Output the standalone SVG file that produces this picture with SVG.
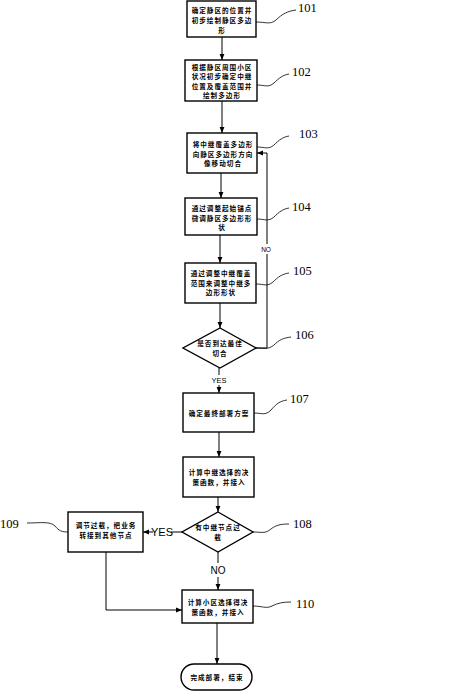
<svg xmlns="http://www.w3.org/2000/svg" width="474" height="692" viewBox="0 0 474 692">
<style>
.box{fill:#fff;stroke:#000;stroke-width:1.4}
.t{font-family:"Noto Sans CJK SC","Noto Sans CJK JP",sans-serif;font-size:6.6px;letter-spacing:1px;text-anchor:middle;dominant-baseline:central;fill:#000;font-weight:bold}
.lab{font-family:"Liberation Serif",serif;font-size:12.5px;dominant-baseline:central;fill:#000}
.yn{font-family:"Liberation Sans",sans-serif;fill:#000;text-anchor:middle;dominant-baseline:central}
.c{fill:none;stroke:#000;stroke-width:1}
.lead{fill:none;stroke:#000;stroke-width:0.8}
</style>
<defs>
<marker id="ah" viewBox="0 0 10 10" refX="10" refY="5" markerWidth="6" markerHeight="6" orient="auto" markerUnits="userSpaceOnUse">
<path d="M0,1 L10,5 L0,9 Z" fill="#000"/>
</marker>
</defs>
<rect width="474" height="692" fill="#fff"/>

<g id="connectors">
<line class="c" x1="222" y1="37" x2="222" y2="60" marker-end="url(#ah)"/>
<line class="c" x1="222" y1="101" x2="222" y2="133" marker-end="url(#ah)"/>
<line class="c" x1="221" y1="173" x2="221" y2="198" marker-end="url(#ah)"/>
<line class="c" x1="220" y1="235" x2="220" y2="263" marker-end="url(#ah)"/>
<line class="c" x1="220" y1="303" x2="220" y2="328" marker-end="url(#ah)"/>
<polyline class="c" points="256,348 267,348 267,153 257,153" marker-end="url(#ah)"/>
<line class="c" x1="219" y1="368" x2="219" y2="375"/>
<line class="c" x1="219" y1="385" x2="219" y2="393" marker-end="url(#ah)"/>
<line class="c" x1="219" y1="432" x2="219" y2="457" marker-end="url(#ah)"/>
<line class="c" x1="218" y1="497" x2="218" y2="512" marker-end="url(#ah)"/>
<line class="c" x1="182" y1="532" x2="171" y2="532"/>
<line class="c" x1="153" y1="532" x2="143" y2="532" marker-end="url(#ah)"/>
<line class="c" x1="218" y1="552" x2="218" y2="563"/>
<line class="c" x1="218" y1="577" x2="218" y2="590" marker-end="url(#ah)"/>
<polyline class="c" points="106,552 106,610 182,610" marker-end="url(#ah)"/>
<line class="c" x1="217" y1="623" x2="217" y2="664" marker-end="url(#ah)"/>
<rect x="261" y="244" width="12" height="10" fill="#fff"/>
<text class="yn" x="266" y="249" font-size="6.5">NO</text>
<text class="yn" x="219" y="380" font-size="7.5">YES</text>
<text class="yn" x="162" y="532" font-size="11">YES</text>
<text class="yn" x="218" y="570" font-size="10">NO</text>
</g>

<g id="n101">
<rect class="box" x="187" y="1" width="69" height="36"/>
<text class="t" x="222" y="10">确定静区的位置并</text>
<text class="t" x="222" y="20">初步绘制静区多边</text>
<text class="t" x="222" y="30">形</text>
<path class="lead" d="M256,22 C266,22 270,25 276,20 C282,14 288,11 296,10"/>
<text class="lab" x="298" y="8">101</text>
</g>

<g id="n102">
<rect class="box" x="185" y="60" width="72" height="41"/>
<text class="t" x="222" y="66.5">根据静区周围小区</text>
<text class="t" x="222" y="76">状况初步确定中继</text>
<text class="t" x="222" y="85.5">位置及覆盖范围并</text>
<text class="t" x="222" y="95">绘制多边形</text>
<path class="lead" d="M257,85 C265,85 268,88 274,83 C279,78 283,75 289,74"/>
<text class="lab" x="292" y="72">102</text>
</g>

<g id="n103">
<rect class="box" x="187" y="133" width="70" height="40"/>
<text class="t" x="223" y="144">将中继覆盖多边形</text>
<text class="t" x="223" y="153.5">向静区多边形方向</text>
<text class="t" x="223" y="163">像移动切合</text>
<path class="lead" d="M257,147 C265,147 268,150 274,145 C279,140 283,137 289,136"/>
<text class="lab" x="299" y="134">103</text>
</g>

<g id="n104">
<rect class="box" x="185" y="198" width="72" height="37"/>
<text class="t" x="222" y="208">通过调整起始锚点</text>
<text class="t" x="222" y="217.5">微调静区多边形形</text>
<text class="t" x="222" y="227">状</text>
<path class="lead" d="M257,219 C265,219 268,222 274,217 C279,212 283,209 289,208"/>
<text class="lab" x="292" y="207">104</text>
</g>

<g id="n105">
<rect class="box" x="185" y="263" width="71" height="40"/>
<text class="t" x="221" y="273">通过调整中继覆盖</text>
<text class="t" x="221" y="282.5">范围来调整中继多</text>
<text class="t" x="221" y="292">边形形状</text>
<path class="lead" d="M256,284 C264,284 267,287 273,282 C278,277 282,274 289,273"/>
<text class="lab" x="293" y="271">105</text>
</g>

<g id="n106">
<polygon class="box" points="220,328 256,348 220,368 183,348"/>
<text class="t" x="220" y="343">是否到达最佳</text>
<text class="t" x="220" y="353">切合</text>
<path class="lead" d="M256,348 C264,348 268,350 274,345 C279,340 283,338 291,337"/>
<text class="lab" x="295" y="335">106</text>
</g>

<g id="n107">
<rect class="box" x="183" y="393" width="71" height="39"/>
<text class="t" x="219" y="413">确定最终部署方案</text>
<path class="lead" d="M254,413 C262,413 265,416 271,410 C276,404 280,401 287,400"/>
<text class="lab" x="290" y="399">107</text>
</g>

<g id="n_relay">
<rect class="box" x="183" y="457" width="71" height="40"/>
<text class="t" x="219" y="472">计算中继选择的决</text>
<text class="t" x="219" y="482">策函数，并接入</text>
</g>

<g id="n108">
<polygon class="box" points="218,512 253,532 218,552 182,532"/>
<text class="t" x="218" y="527">有中继节点过</text>
<text class="t" x="218" y="537">载</text>
<path class="lead" d="M253,532 C262,532 265,534 271,529 C276,525 281,524 289,524"/>
<text class="lab" x="293" y="524">108</text>
</g>

<g id="n109">
<rect class="box" x="68" y="512" width="75" height="40"/>
<text class="t" x="106" y="525">调节过载，把业务</text>
<text class="t" x="106" y="535">转接到其他节点</text>
<path class="lead" d="M27,523 C40,523 50,521 55,526 C59,531 62,532 68,532"/>
<text class="lab" x="0" y="524">109</text>
</g>

<g id="n110">
<rect class="box" x="182" y="590" width="71" height="33"/>
<text class="t" x="218" y="602">计算小区选择得决</text>
<text class="t" x="218" y="612">策函数，并接入</text>
<path class="lead" d="M253,606 C262,606 266,609 272,606 C278,603 283,602 291,602"/>
<text class="lab" x="296" y="604">110</text>
</g>

<g id="end">
<rect class="box" x="181" y="664" width="71" height="26" rx="13" ry="13"/>
<text class="t" x="217" y="677">完成部署，结束</text>
</g>
</svg>
